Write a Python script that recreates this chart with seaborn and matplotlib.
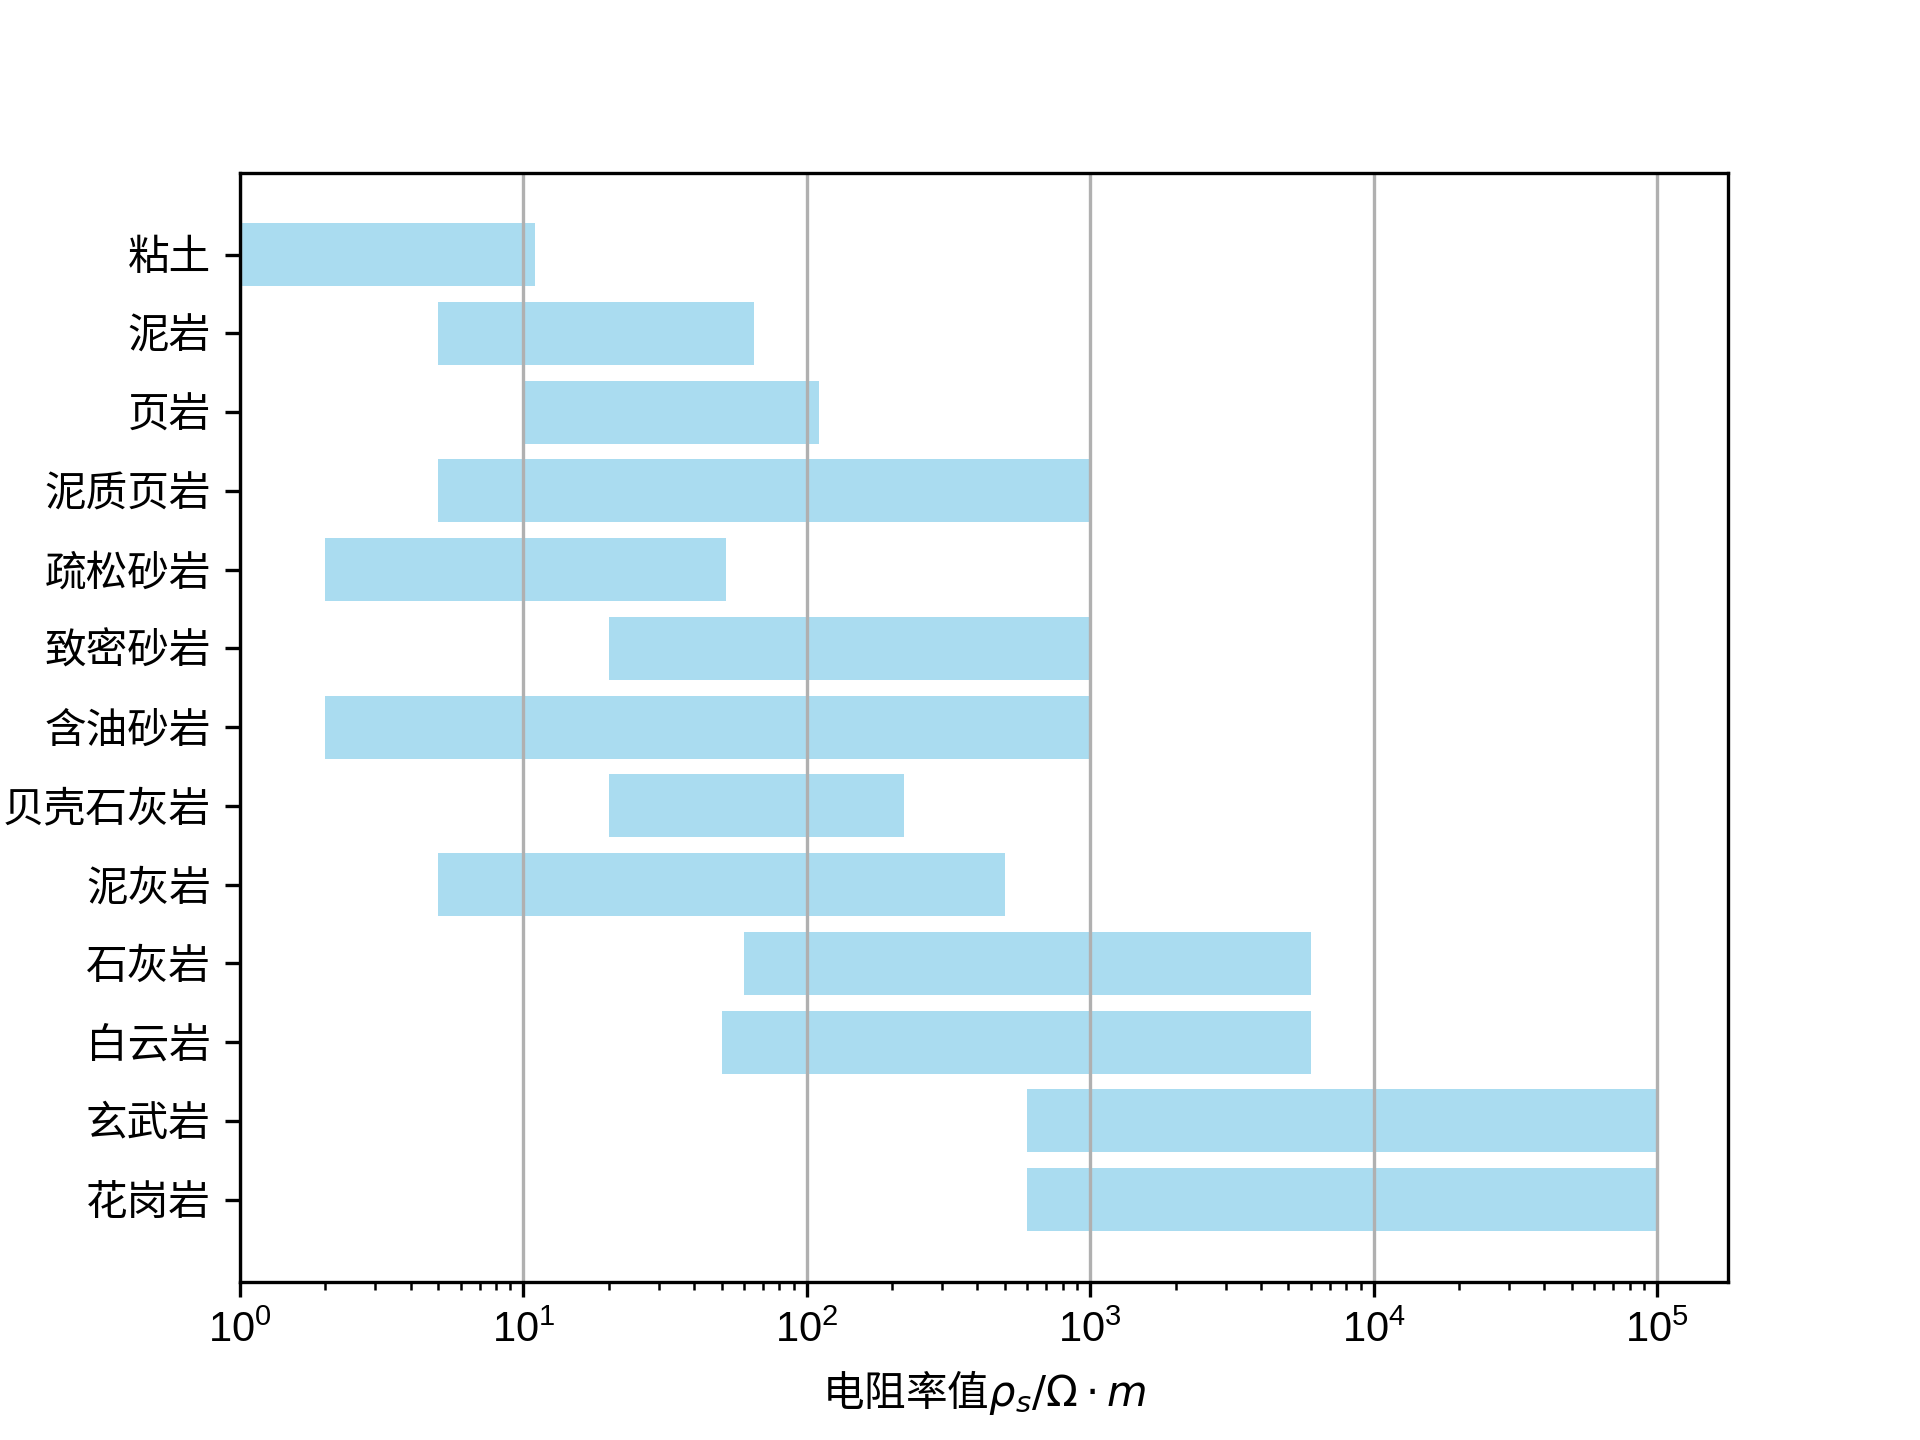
import matplotlib
matplotlib.use("Agg")
import numpy as np
import pandas as pd
import seaborn as sns
import matplotlib.pyplot as plt

plt.rcParams['font.family'] = ['Liberation Sans', 'Noto Sans CJK SC', 'DejaVu Sans']
plt.rcParams['axes.unicode_minus'] = False

# resistivity ranges of common rocks (Ohm*m)
rocks = ["粘土", "泥岩", "页岩", "泥质页岩", "疏松砂岩", "致密砂岩", "含油砂岩",
         "贝壳石灰岩", "泥灰岩", "石灰岩", "白云岩", "玄武岩", "花岗岩"]
rho_min = [1, 5, 10, 5, 2, 20, 2, 20, 5, 60, 50, 600, 600]
rho_max = [11, 65, 110, 1000, 52, 1000, 1000, 220, 500, 6000, 6000, 1e5, 1e5]

df = pd.DataFrame({"rock": rocks, "low": rho_min, "high": rho_max})
df["span"] = df["high"] - df["low"]

fig, ax = plt.subplots(figsize=(6.4, 4.8), dpi=300)
ax.set_xscale("log")
sns.barplot(data=df, x="span", y="rock", orient="h", left=df["low"].to_numpy(),
            color="skyblue", alpha=0.7, saturation=1, width=0.8,
            errorbar=None, ax=ax)

# matplotlib-style margins on the category axis, left edge pinned at 1
n = len(rocks)
pad = 0.05 * (n - 1 + 0.8)
ax.set_ylim(n - 1 + 0.4 + pad, -0.4 - pad)
ax.set_xlim(1, ax.get_xlim()[1])

ax.grid(axis="x", which="major")
# mathtext takes no font fallback, so give the label a CJK family of its own
ax.set_xlabel(r"电阻率值$\rho_s/\Omega\cdot m$", family="Noto Sans CJK SC")
ax.set_ylabel("")

fig.savefig("out.png", dpi=300)
